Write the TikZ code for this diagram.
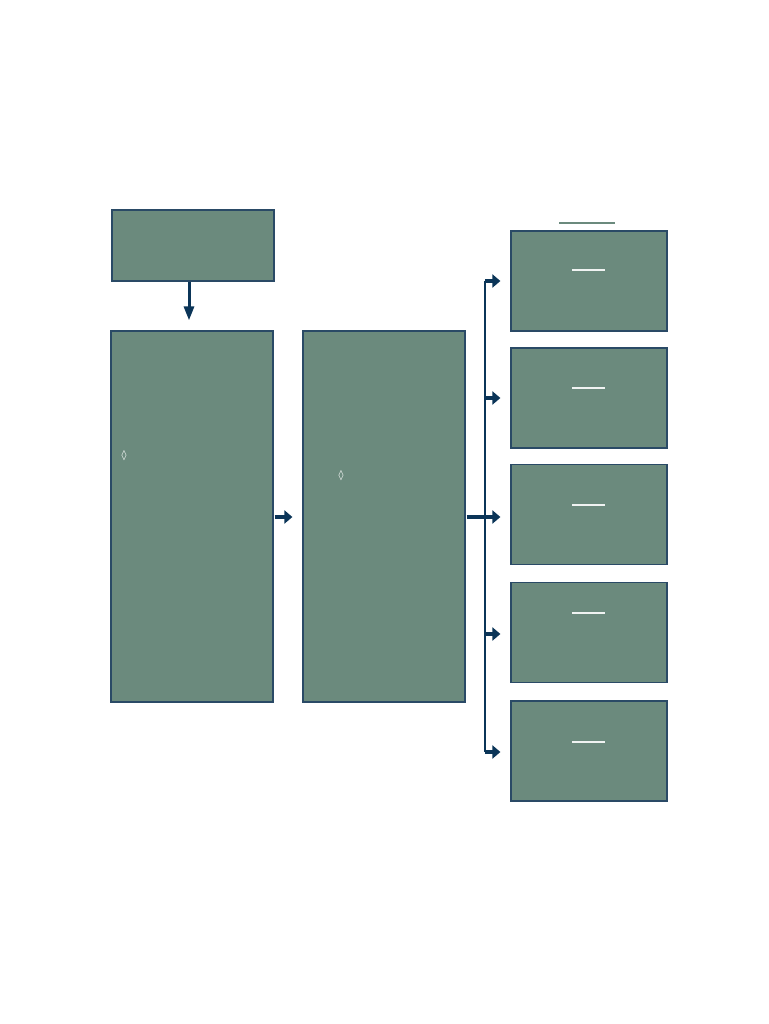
\documentclass[tikz,border=0pt]{standalone}
\usepackage{fontspec}
\newfontfamily\symfont{DejaVu Sans}
\usetikzlibrary{arrows.meta,calc}
\definecolor{boxfill}{HTML}{6B8A7D}
\definecolor{boxedge}{HTML}{2A4A66}
\definecolor{navy}{HTML}{0B3558}
\tikzset{
  box/.style={draw=boxedge, line width=1.2pt, fill=boxfill, inner sep=0pt},
  bigbox/.style={box, minimum width=162pt, minimum height=371pt},
  sidebox/.style={box, minimum width=156pt, minimum height=100pt},
  arr/.style={draw=navy, line width=4pt, -{Triangle[length=8pt,width=13pt]}},
  thinarr/.style={draw=navy, line width=3pt, -{Triangle[length=14pt,width=10pt]}},
  bus/.style={draw=navy, line width=2pt},
  dash line/.style={draw=white!90!boxfill, line width=1.3pt},
  mark glyph/.style={text=white, font=\symfont\bfseries\fontsize{10}{10}\selectfont, inner sep=0pt}
}
\begin{document}
\begin{tikzpicture}[x=1pt,y=-1pt]
\useasboundingbox (0,0) rectangle (768,1024);
% boxes
\node[box, minimum width=162pt, minimum height=71pt] (top) at (193,245.5) {};
\node[bigbox] (left) at (192,516.5) {};
\node[bigbox] (mid) at (384,516.5) {};
\node[sidebox] (r1) at (589,281) {};
\node[sidebox] (r2) at (589,398) {};
\node[sidebox] (r3) at (589,514.5) {};
\node[sidebox] (r4) at (589,632.5) {};
\node[sidebox] (r5) at (589,751) {};
% small marks
\node[mark glyph] (m1) at (124,456) {◊};
\node[mark glyph] (m2) at (341,476) {◊};
% white short lines in right boxes
\draw[dash line] ($(r1.center)+(-17,-11)$) -- ++(33,0);
\draw[dash line] ($(r2.center)+(-17,-10)$) -- ++(33,0);
\draw[dash line] ($(r3.center)+(-17,-9.5)$) -- ++(33,0);
\draw[dash line] ($(r4.center)+(-17,-19.5)$) -- ++(33,0);
\draw[dash line] ($(r5.center)+(-17,-9)$) -- ++(33,0);
% green line above first right box
\coordinate (gl) at (559,223);
\draw[draw=boxfill, line width=2.5pt] (gl) -- ++(56,0);
% connectors
\draw[thinarr, shorten >=10pt] (top.south -| 189,0) -- (left.north -| 189,0);
\draw[arr, shorten >=10pt, shorten <=1pt] (left.east |- 0,517) -- (mid.west |- 0,517);
\coordinate (bt) at (485,281);
\coordinate (bb) at (485,752);
\coordinate (bm) at (485,517);
\draw[bus] (bt) -- (bb);
\draw[draw=navy, line width=4pt] ($(mid.east |- bm)+(1,0)$) -- (bm);
\draw[arr, shorten >=10pt] (bt) -- (r1.west |- bt);
\draw[arr, shorten >=10pt] (485,398) -- (r2.west |- 0,398);
\draw[arr, shorten >=10pt] (bm) -- (r3.west |- bm);
\draw[arr, shorten >=10pt] (485,634) -- (r4.west |- 0,634);
\draw[arr, shorten >=10pt] (bb) -- (r5.west |- bb);
\end{tikzpicture}
\end{document}
